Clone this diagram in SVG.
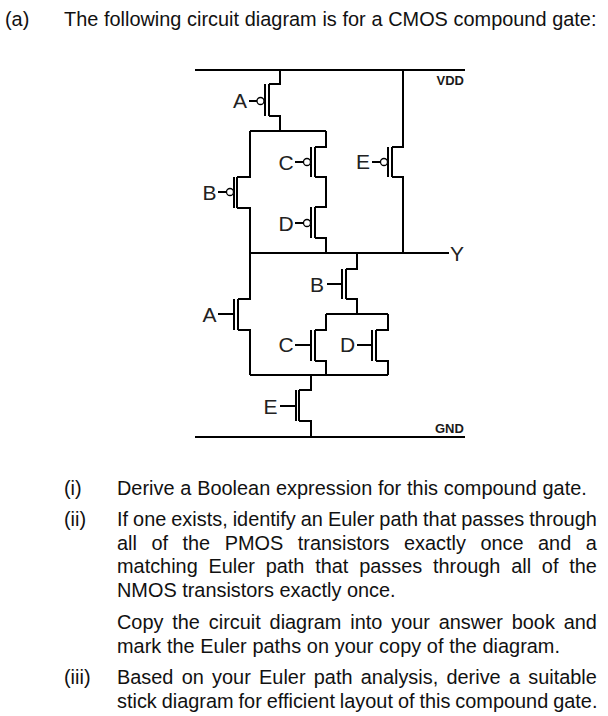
<svg xmlns="http://www.w3.org/2000/svg" width="608" height="716" viewBox="0 0 608 716">
<style>
.w{fill:none;stroke:#000;stroke-width:2}
.b{fill:#fff;stroke:#000;stroke-width:1.3}
.l{font:21px "Liberation Sans",Arial,sans-serif;fill:#222;text-anchor:middle;stroke:none}
.p{font:bold 13px "Liberation Sans",Arial,sans-serif;fill:#1a1a1a}
.t{font:19.9px "Liberation Sans",Arial,sans-serif;fill:#111}
</style>
<rect width="608" height="716" fill="#fff"/>
<g id="connectors" class="w">
<path d="M195 70H465M280 70V84H269M269 116H280V131M250 131H326M250 131V177H237M237 208H250V299H238M238 330H250V375M326 131V147H315M315 177H326V207H315M315 238H326V253M403 70V147H392M392 177H403V253M250 253H449M357 253V269H346M346 299H357V314M326 314H388M326 314V330H315M315 361H326V375M388 314V330H376M376 361H388V375M250 375H388M311 375V390H299M299 421H311V437M195 437H465"/>
</g>
<g id="pmos-a" class="w"><path d="M269 84V116M265 84V116M249 101H257"/><circle class="b" cx="260.500" cy="101" r="3.500"/><text class="l" x="240" y="108">A</text></g>
<g id="pmos-b" class="w"><path d="M237 177V208M234 177V208M218 192H226"/><circle class="b" cx="230" cy="192" r="3.500"/><text class="l" x="209.500" y="200">B</text></g>
<g id="pmos-c" class="w"><path d="M315 147V177M311 147V177M295 162H303"/><circle class="b" cx="307" cy="162" r="3.500"/><text class="l" x="286" y="170">C</text></g>
<g id="pmos-d" class="w"><path d="M315 207V238M311 207V238M295 223H303"/><circle class="b" cx="307" cy="223" r="3.500"/><text class="l" x="286" y="231">D</text></g>
<g id="pmos-e" class="w"><path d="M392 147V177M388 147V177M372 162H380"/><circle class="b" cx="384" cy="162" r="3.500"/><text class="l" x="363" y="169">E</text></g>
<g id="nmos-b" class="w"><path d="M346 269V299M342 269V299M327 284H342"/><text class="l" x="317" y="292">B</text></g>
<g id="nmos-a" class="w"><path d="M238 299V330M234 299V330M218 314H234"/><text class="l" x="209.500" y="322">A</text></g>
<g id="nmos-c" class="w"><path d="M315 330V361M311 330V361M295 345H311"/><text class="l" x="286" y="352">C</text></g>
<g id="nmos-d" class="w"><path d="M376 330V361M372 330V361M357 345H372"/><text class="l" x="347.500" y="352">D</text></g>
<g id="nmos-e" class="w"><path d="M299 390V421M296 390V421M280 406H296"/><text class="l" x="270.500" y="414">E</text></g>
<g id="output-y"><text class="l" x="457" y="261">Y</text></g>
<g id="vdd"><text class="p" x="436.500" y="85">VDD</text></g>
<g id="gnd"><text class="p" x="435" y="433">GND</text></g>
<g id="question">
<text class="t" x="5" y="26">(a)</text>
<text class="t" x="64" y="26" word-spacing="0.2">The following circuit diagram is for a CMOS compound gate:</text>
<text class="t" x="64" y="495">(i)</text>
<text class="t" x="117" y="495" word-spacing="0.3">Derive a Boolean expression for this compound gate.</text>
<text class="t" x="64" y="526">(ii)</text>
<text class="t" x="117" y="526" word-spacing="-0.5">If one exists, identify an Euler path that passes through</text>
<text class="t" x="117" y="550" word-spacing="8.98">all of the PMOS transistors exactly once and a</text>
<text class="t" x="117" y="573" word-spacing="5.25">matching Euler path that passes through all of the</text>
<text class="t" x="117" y="597">NMOS transistors exactly once.</text>
<text class="t" x="117" y="629" word-spacing="3.32">Copy the circuit diagram into your answer book and</text>
<text class="t" x="117" y="653" word-spacing="0.2">mark the Euler paths on your copy of the diagram.</text>
<text class="t" x="64" y="684">(iii)</text>
<text class="t" x="117" y="684" word-spacing="2.76">Based on your Euler path analysis, derive a suitable</text>
<text class="t" x="117" y="708" word-spacing="-0.57">stick diagram for efficient layout of this compound gate.</text>
</g>
</svg>
